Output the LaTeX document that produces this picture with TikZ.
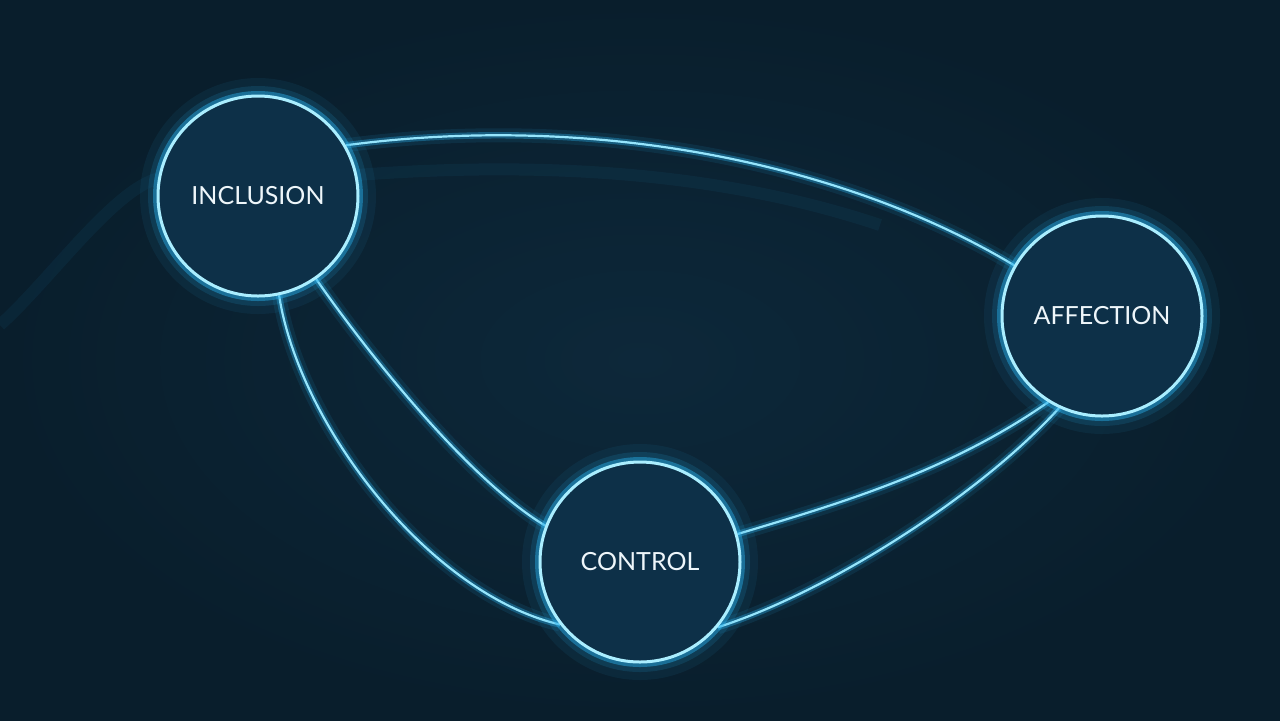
\documentclass[tikz,border=0pt]{standalone}
\usepackage{fontspec}
\newfontfamily\labelfont{Lato}
\usepackage{tikz}
\usetikzlibrary{backgrounds}
\definecolor{bgnavy}{RGB}{9,30,44}
\definecolor{bglight}{RGB}{13,40,58}
\definecolor{bubin}{RGB}{13,48,72}
\definecolor{bubrim}{RGB}{30,104,140}
\definecolor{rimcyan}{RGB}{170,238,255}
\definecolor{glowcyan}{RGB}{40,175,235}
\definecolor{labelwhite}{RGB}{238,246,250}
\pgfdeclareradialshading{bubbleshade}{\pgfpoint{0bp}{0bp}}{color(0bp)=(bubin); color(33bp)=(bubin); color(47bp)=(bubrim); color(50bp)=(bubrim)}
\tikzset{
  bubble/.style={circle, minimum size=100pt, shading=bubbleshade, draw=rimcyan, line width=1.5pt,
    preaction={draw=glowcyan, line width=18pt, opacity=0.07},
    preaction={draw=glowcyan, line width=10pt, opacity=0.14},
    preaction={draw=glowcyan, line width=5pt, opacity=0.45},
    text=labelwhite, font=\labelfont\fontsize{12.5}{15}\selectfont},
  link/.style={draw=rimcyan!85!glowcyan, line width=1.1pt,
    preaction={draw=glowcyan, line width=7pt, opacity=0.1},
    preaction={draw=glowcyan, line width=3.2pt, opacity=0.35}},
  haze/.style={draw=glowcyan, line width=6pt, opacity=0.06}
}

\begin{document}
\begin{tikzpicture}[x=0.5pt,y=-0.5pt]
    \useasboundingbox (0,0) rectangle (1280,720);
    \node[bubble] (inclusion) at (258,196) {INCLUSION};
    \node[bubble] (affection) at (1102,316) {AFFECTION};
    \node[bubble] (control) at (640,562) {CONTROL};
    \coordinate (hazestart) at (0,325);
    \coordinate (hazeend) at (880,225);
    \begin{scope}[on background layer]
        \shade[inner color=bglight, outer color=bgnavy] (0,0) rectangle (1280,720);
        % faint reflections
        \draw[haze] (hazestart) .. controls +(50,-45) and +(-45,12) .. (inclusion.170);
        \draw[haze] (inclusion.12) .. controls +(200,-15) and +(-150,-50) .. (hazeend);
        % links
        \draw[link] (inclusion.30) .. controls +(250,-33) and +(-170,-102) .. (affection.150);
        \draw[link] (inclusion.-55) .. controls +(45,65) and +(-80,-48) .. (control.159);
        \draw[link] (inclusion.-78) .. controls +(20,130) and +(-130,-30) .. (control.218);
        \draw[link] (control.16) .. controls +(100,-30) and +(-100,70) .. (affection.238);
        \draw[link] (control.-40) .. controls +(110,-35) and +(-80,88) .. (affection.245);
    \end{scope}
\end{tikzpicture}
\end{document}
